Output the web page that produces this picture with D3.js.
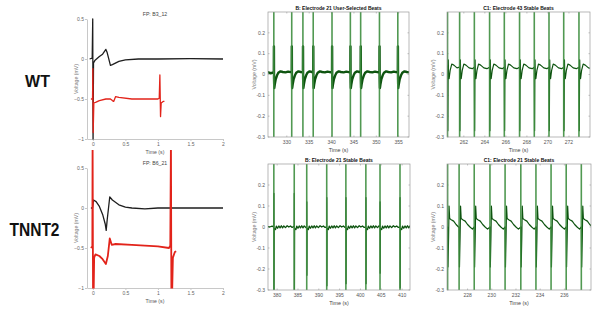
<!DOCTYPE html>
<html><head><meta charset="utf-8">
<script src="https://cdn.jsdelivr.net/npm/d3@7"></script>
<style>body{margin:0;background:#fff}svg{display:block}text{font-family:"Liberation Sans",Arial,sans-serif}</style>
</head><body>
<script>
// ---------------- DATA ----------------
const groupLabels = ["WT", "TNNT2"];
const fpTitles = ["FP: B3_12", "FP: B6_21"];
const fpXTicks = [0, 0.5, 1, 1.5, 2];
const fpYTicks = [0.5, 0, -0.5, -1];

// WT field potential (time s, voltage mV)
const wtBlack = [[-0.05,0],[-0.01,0.01],[-0.002,0.5],[0.003,-1.05],[0.01,-0.05],[0.03,-0.02],[0.1,0.03],[0.15,0.06],[0.2,0.12],[0.22,0.08],[0.27,-0.08],[0.3,-0.07],[0.4,-0.03],[0.5,-0.01],[0.7,0],[1,0],[1.5,0.004],[2,0]];
const wtRed = [[-0.03,-0.5],[-0.005,-0.5],[0.0,-0.12],[0.005,-0.92],[0.015,-0.55],[0.05,-0.54],[0.1,-0.52],[0.2,-0.5],[0.27,-0.5],[0.3,-0.52],[0.32,-0.53],[0.35,-0.47],[0.4,-0.48],[0.6,-0.5],[1.0,-0.5],[1.02,-0.49],[1.03,-0.2],[1.04,-0.72],[1.05,-0.55],[1.08,-0.53],[1.1,-0.53]];
// TNNT2 field potential
const tnBlack = [[-0.03,0],[-0.005,0],[0.01,0.1],[0.05,0.08],[0.1,0.02],[0.15,-0.08],[0.19,-0.2],[0.205,-0.28],[0.22,-0.15],[0.26,0.14],[0.3,0.1],[0.4,0.04],[0.5,0.01],[0.6,0],[0.8,-0.01],[1,0],[2,0]];
const tnRed = [[-0.03,-0.5],[-0.008,-0.48],[-0.004,0.9],[0.003,-1.2],[0.01,-1.2],[0.02,-0.62],[0.04,-0.58],[0.1,-0.6],[0.15,-0.64],[0.2,-0.7],[0.23,-0.6],[0.26,-0.38],[0.29,-0.46],[0.35,-0.45],[0.6,-0.46],[1.0,-0.48],[1.17,-0.5],[1.19,-0.47],[1.2,0.9],[1.207,-1.2],[1.215,-1.2],[1.23,-0.62],[1.26,-0.55],[1.28,-0.54]];

// MEA panels
const meaYTicks = [0.2, 0.1, 0, -0.1, -0.2, -0.3];

const b3Title = "B:  Electrode 21 User-Selected Beats";
const b3XTicks = [330, 335, 340, 345, 350, 355];
const b3Beats = [327.1, 331.1, 333.6, 335.9, 340.1, 344.2, 346.5, 350.7, 354.8];
const b3Lead = [[325.6, 0.012], [326.4, 0.006], [327.05, 0.01]];
const b3Template = [[0,0.01],[0.02,0.135],[0.05,-0.02],[0.1,-0.065],[0.2,-0.05],[0.4,-0.025],[0.7,-0.005],[1.0,0.008],[1.5,0.015],[2.0,0.012],[2.6,0.01],[3.2,0.014],[4.0,0.01]];

const b4Title = "B: Electrode 21 Stable Beats";
const b4XTicks = [380, 385, 390, 395, 400, 405, 410];
const b4Beats = [379.2, 384.1, 387.1, 391.9, 396.5, 401.3, 404.7, 409.5];
const b4Peaks = [0.16, 0.16, 0.12, 0.14, 0.14, 0.14, 0.12, 0.14];
const b4Troughs = [-0.31, -0.31, -0.23, -0.28, -0.27, -0.27, -0.22, -0.29];
const b4Lead = [[377.6, 0.003], [378.2, 0.0], [378.8, 0.004], [379.15, 0.0]];
const b4Template = [[0,0],[0.015,"peak"],[0.04,"trough"],[0.08,-0.01],[0.2,-0.008],[0.4,-0.012],[0.6,0.004],[0.9,-0.006],[1.2,0.005],[1.5,-0.004],[1.8,0.006],[2.1,-0.004],[2.4,0.005],[2.8,-0.003],[3.2,0.006],[3.6,0.0],[4.0,0.005],[4.4,-0.002],[4.8,0.004]];

const c5Title = "C1: Electrode 43 Stable Beats";
const c5XTicks = [262, 264, 266, 268, 270, 272];
const c5Beats = [260.45, 261.6, 263.0, 264.45, 265.85, 267.3, 268.7, 270.1, 271.5, 272.95];
const c5Lead = [[260.2, 0.04], [260.42, 0.04]];
const c5Template = [[0,0.035],[0.03,-0.27],[0.05,-0.05],[0.07,0.07],[0.1,0.0],[0.15,-0.02],[0.25,0.02],[0.4,0.05],[0.6,0.045],[0.9,0.032],[1.2,0.028],[1.45,0.03]];

const c6Title = "C1: Electrode 21 Stable Beats";
const c6XTicks = [228, 230, 232, 234, 236];
const c6Beats = [226.35, 227.3, 228.55, 229.85, 231.1, 232.4, 233.65, 234.9, 236.15, 237.4];
const c6Lead = [[226.1, 0.0], [226.33, 0.0]];
const c6Template = [[0,0.0],[0.03,-0.19],[0.08,-0.05],[0.12,0.1],[0.17,0.04],[0.3,0.035],[0.5,0.028],[0.7,0.012],[0.9,0.0],[1.1,-0.01],[1.28,-0.012]];

// ---------------- DRAW ----------------
const svg = d3.select("body").append("svg").attr("width", 602).attr("height", 315);
const defs = svg.append("defs");
let clipId = 0;

function addClip(x, y, w, h) {
  const id = "clip" + (clipId++);
  defs.append("clipPath").attr("id", id).append("rect").attr("x", x).attr("y", y).attr("width", w).attr("height", h);
  return "url(#" + id + ")";
}

// Group labels
svg.append("text").attr("x", 37.5).attr("y", 87).attr("text-anchor", "middle")
  .attr("font-size", 16).attr("font-weight", "bold").attr("fill", "#111").text(groupLabels[0]);
svg.append("text").attr("x", 9.5).attr("y", 236).attr("font-family", "Lato")
  .attr("font-size", 18.5).attr("font-weight", "bold").attr("fill", "#111")
  .attr("textLength", 50).attr("lengthAdjust", "spacingAndGlyphs").text(groupLabels[1]);

// FP panels
function fpPanel(o) {
  const x = d3.scaleLinear().domain([-0.09, 2.0]).range([87, 223]);
  const y = d3.scaleLinear().domain([-1, 0.5]).range([o.bottom, o.bottom - 120]);
  const g = svg.append("g");
  const axCol = "#c8c8c8", txtCol = "#666";
  // x axis
  const xa = g.append("g").attr("transform", `translate(0,${o.bottom})`)
    .call(d3.axisBottom(x).tickValues(fpXTicks).tickSize(2).tickSizeOuter(0).tickFormat(d3.format("")));
  xa.select(".domain").attr("stroke", axCol);
  xa.selectAll("line").attr("stroke", axCol);
  xa.selectAll("text").attr("fill", txtCol).attr("font-size", 5).attr("dy", "0.3em").attr("font-family", "Liberation Sans");
  const ya = g.append("g").attr("transform", `translate(87,0)`)
    .call(d3.axisLeft(y).tickValues(fpYTicks).tickSize(2).tickSizeOuter(0).tickFormat(d3.format("")));
  ya.select(".domain").attr("stroke", axCol);
  ya.selectAll("line").attr("stroke", axCol);
  ya.selectAll("text").attr("fill", txtCol).attr("font-size", 5).attr("dx", "0.4em").attr("font-family", "Liberation Sans");
  // labels
  g.append("text").attr("x", 155).attr("y", o.bottom + 15).attr("text-anchor", "middle")
    .attr("font-size", 5.2).attr("fill", "#555").text("Time (s)");
  g.append("text").attr("transform", `translate(77.5,${o.bottom - 60}) rotate(-90)`).attr("text-anchor", "middle")
    .attr("font-size", 5.2).attr("fill", "#777").text("Voltage (mV)");
  g.append("text").attr("x", 155).attr("y", o.titleY).attr("text-anchor", "middle")
    .attr("font-size", 5.2).attr("fill", "#444").text(o.title);
  const clip = addClip(82, o.clipTop, 150, o.bottom - o.clipTop + 0.5);
  const line = d3.line().x(d => x(d[0])).y(d => y(d[1]));
  const pg = g.append("g").attr("clip-path", clip);
  pg.append("path").datum(o.black).attr("d", line).attr("fill", "none").attr("stroke", "#1e1e1e").attr("stroke-width", 1.3).attr("stroke-linejoin", "round");
  pg.append("path").datum(o.red).attr("d", line).attr("fill", "none").attr("stroke", "#e2231a").attr("stroke-width", o.redW).attr("stroke-linejoin", "round");
}
fpPanel({bottom: 139, clipTop: 14, titleY: 16, title: fpTitles[0], black: wtBlack, red: wtRed, redW: 1.3});
fpPanel({bottom: 288, clipTop: 150, titleY: 165, title: fpTitles[1], black: tnBlack, red: tnRed, redW: 1.8});

// MEA panels
function composeTrace(lead, beats, template, peaks, troughs, xmax) {
  const pts = lead.slice();
  beats.forEach((b, i) => {
    const next = i < beats.length - 1 ? beats[i + 1] : xmax + 0.5;
    template.forEach(([dt, v]) => {
      if (b + dt < next - 0.04) {
        let val = v;
        if (v === "peak") val = peaks[i];
        if (v === "trough") val = troughs[i];
        pts.push([b + dt, val]);
      }
    });
  });
  return pts;
}

function meaPanel(o) {
  const x = d3.scaleLinear().domain(o.xd).range([o.left, o.right]);
  const y = d3.scaleLinear().domain([-0.3, 0.3]).range([o.bottom, o.top]);
  const g = svg.append("g");
  const boxCol = "#9a9a9a", txtCol = "#555";
  // ticks (inward) on bottom/top and left/right
  o.xTicks.forEach(t => {
    g.append("line").attr("x1", x(t)).attr("x2", x(t)).attr("y1", o.bottom).attr("y2", o.bottom - 1.5).attr("stroke", boxCol).attr("stroke-width", 0.6);
    g.append("line").attr("x1", x(t)).attr("x2", x(t)).attr("y1", o.top).attr("y2", o.top + 1.5).attr("stroke", boxCol).attr("stroke-width", 0.6);
    g.append("text").attr("x", x(t)).attr("y", o.bottom + 6.8).attr("text-anchor", "middle")
      .attr("font-size", 5).attr("fill", txtCol).text(t);
  });
  meaYTicks.forEach(t => {
    g.append("line").attr("x1", o.left).attr("x2", o.left + 1.5).attr("y1", y(t)).attr("y2", y(t)).attr("stroke", boxCol).attr("stroke-width", 0.6);
    g.append("line").attr("x1", o.right).attr("x2", o.right - 1.5).attr("y1", y(t)).attr("y2", y(t)).attr("stroke", boxCol).attr("stroke-width", 0.6);
    g.append("text").attr("x", o.left - 3).attr("y", y(t) + 1.8).attr("text-anchor", "end")
      .attr("font-size", 5).attr("fill", txtCol).text(t);
  });
  g.append("text").attr("x", (o.left + o.right) / 2).attr("y", o.bottom + 15).attr("text-anchor", "middle")
    .attr("font-size", 5.4).attr("fill", "#444").text("Time (s)");
  g.append("text").attr("transform", `translate(${o.left - 12},${(o.top + o.bottom) / 2}) rotate(-90)`).attr("text-anchor", "middle")
    .attr("font-size", 5.2).attr("fill", "#777").text("Voltage (mV)");
  g.append("text").attr("x", (o.left + o.right) / 2).attr("y", o.top - 2).attr("text-anchor", "middle")
    .attr("font-size", 5).attr("font-weight", "bold").attr("fill", "#111").text(o.title);

  const clip = addClip(o.left, o.top, o.right - o.left, o.bottom - o.top);
  const pg = g.append("g").attr("clip-path", clip);
  const trace = composeTrace(o.lead, o.beats, o.template, o.peaks, o.troughs, o.xd[1]);
  pg.append("path").datum(trace).attr("d", d3.line().x(d => x(d[0])).y(d => y(d[1])))
    .attr("fill", "none").attr("stroke", "#0e5410").attr("stroke-width", o.traceW).attr("stroke-linejoin", "round");
  pg.selectAll("line.beat").data(o.beats).join("line").attr("class", "beat")
    .attr("x1", d => x(d)).attr("x2", d => x(d)).attr("y1", o.top).attr("y2", o.bottom)
    .attr("stroke", "#3f8f40").attr("stroke-width", 1.6).attr("opacity", 0.9);
  g.append("rect").attr("x", o.left).attr("y", o.top).attr("width", o.right - o.left).attr("height", o.bottom - o.top)
    .attr("fill", "none").attr("stroke", boxCol).attr("stroke-width", 0.7);
}

meaPanel({left: 268, right: 409, top: 12, bottom: 137, xd: [325.8, 357.3], xTicks: b3XTicks, title: b3Title,
  beats: b3Beats, lead: b3Lead, template: b3Template, traceW: 2.4});
meaPanel({left: 268, right: 410, top: 164, bottom: 290, xd: [377.8, 411.9], xTicks: b4XTicks, title: b4Title,
  beats: b4Beats, lead: b4Lead, template: b4Template, peaks: b4Peaks, troughs: b4Troughs, traceW: 1.3});
meaPanel({left: 447, right: 590, top: 12, bottom: 137, xd: [260.4, 274.0], xTicks: c5XTicks, title: c5Title,
  beats: c5Beats, lead: c5Lead, template: c5Template, traceW: 1.2});
meaPanel({left: 447, right: 591, top: 164, bottom: 290, xd: [226.3, 238.2], xTicks: c6XTicks, title: c6Title,
  beats: c6Beats, lead: c6Lead, template: c6Template, traceW: 1.2});
</script>
</body></html>
